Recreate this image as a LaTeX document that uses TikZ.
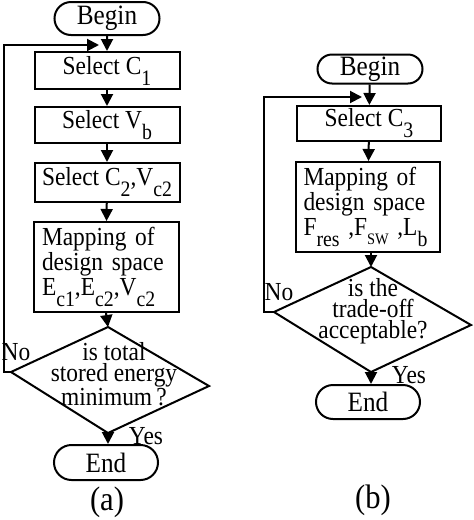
\documentclass[tikz,border=0pt]{standalone}
\usepackage{fontspec}
\setmainfont[FakeStretch=0.9]{Liberation Serif}
\usetikzlibrary{arrows.meta,shapes.misc}
\newcommand\lsub[1]{\raisebox{-11pt}{\fontsize{22}{22}\selectfont #1}}
\newcommand\ssub[1]{\raisebox{-9pt}{\fontsize{16}{16}\selectfont #1}}
\begin{document}
\begin{tikzpicture}[x=1pt,y=-1pt,
  box/.style={draw, line width=2pt, minimum width=145pt, inner sep=0pt, font=\fontsize{26}{26}\selectfont},
  term/.style={draw, line width=2pt, rounded rectangle, minimum width=105pt, minimum height=33pt, inner sep=0pt, font=\fontsize{28}{28}\selectfont},
  dshape/.style={draw, line width=2pt, line join=miter},
  flow/.style={line width=2pt, -{Triangle[length=12pt,width=12pt]}},
  lab/.style={inner sep=0pt, font=\fontsize{26}{26}\selectfont},
  qtext/.style={inner sep=0pt, align=center, font=\fontsize{26}{21}\selectfont},
  captext/.style={inner sep=0pt, font=\fontsize{34}{34}\selectfont}]
\useasboundingbox (0,0) rectangle (474,520);
% ---------- (a)
\node[term] (bA) at (107,18.5) {Begin};
\node[box, minimum height=37pt] (c1) at (107,70.5) {Select C\lsub{1}};
\node[box, minimum height=36pt] (vb) at (107,125) {Select V\lsub{b}};
\node[box, minimum height=39pt] (c2) at (107,182.5) {Select C\lsub{2},V\lsub{c2}};
\node[box, minimum height=90pt, text width=128pt, align=left, font=\fontsize{26}{22}\selectfont] (mA) at (106,267)
  {Mapping of\\design space\\[2pt]E\lsub{c1},E\lsub{c2},V\lsub{c2}};
\coordinate (dAt) at (108,327);
\coordinate (dAr) at (209,386);
\coordinate (dAb) at (108,433);
\coordinate (dAl) at (11,372);
\draw[dshape] (dAt) -- (dAr) -- (dAb) -- (dAl) -- cycle;
\node[qtext] (qA) at (114,374) {is total\\stored energy\\minimum\,?};
\node[term, minimum height=35pt, minimum width=104pt] (eA) at (106,462.5) {End};
\draw[flow] (bA) -- (c1);
\draw[flow] (c1) -- (vb);
\draw[flow] (vb) -- (c2);
\draw[flow] (c2) -- (mA);
\draw[flow] (mA.south) -- (dAt);
\draw[flow] (dAb) -- (dAb |- eA.north);
\coordinate (loopA) at (4,45);
\coordinate (tipA) at (99,45);
\draw[flow] (dAl) -| (loopA) -- (tipA);
\node[lab] (noA) at (16,352) {No};
\node[lab] (yesA) at (146,436) {Yes};
\node[captext] (capA) at (107,502) {(a)};
% ---------- (b)
\node[term, minimum height=29pt] (bB) at (370,69) {Begin};
\node[box, minimum height=35pt, minimum width=144pt] (c3) at (369,123.5) {Select C\lsub{3}};
\node[box, minimum height=90pt, minimum width=144pt, text width=129pt, align=left, font=\fontsize{26}{22}\selectfont] (mB) at (368,207)
  {Mapping of\\design space\\[2pt]F\lsub{res} ,F\ssub{SW} ,L\lsub{b}};
\coordinate (dBt) at (371,267);
\coordinate (dBr) at (471,325);
\coordinate (dBb) at (371,372);
\coordinate (dBl) at (274,312);
\draw[dshape] (dBt) -- (dBr) -- (dBb) -- (dBl) -- cycle;
\node[qtext] (qB) at (373,311) {is the\\trade-off\\acceptable?};
\node[term, minimum height=34pt, minimum width=104pt] (eB) at (368,402) {End};
\draw[flow] (bB) -- (c3);
\draw[flow] (c3) -- (mB);
\draw[flow] (mB.south -| dBt) -- (dBt);
\draw[flow] (dBb) -- (dBb |- eB.north);
\coordinate (loopB) at (264,97);
\coordinate (tipB) at (362,97);
\draw[flow] (dBl) -| (loopB) -- (tipB);
\node[lab] (noB) at (279,292) {No};
\node[lab] (yesB) at (409,375) {Yes};
\node[captext] (capB) at (373,500) {(b)};
\end{tikzpicture}
\end{document}
